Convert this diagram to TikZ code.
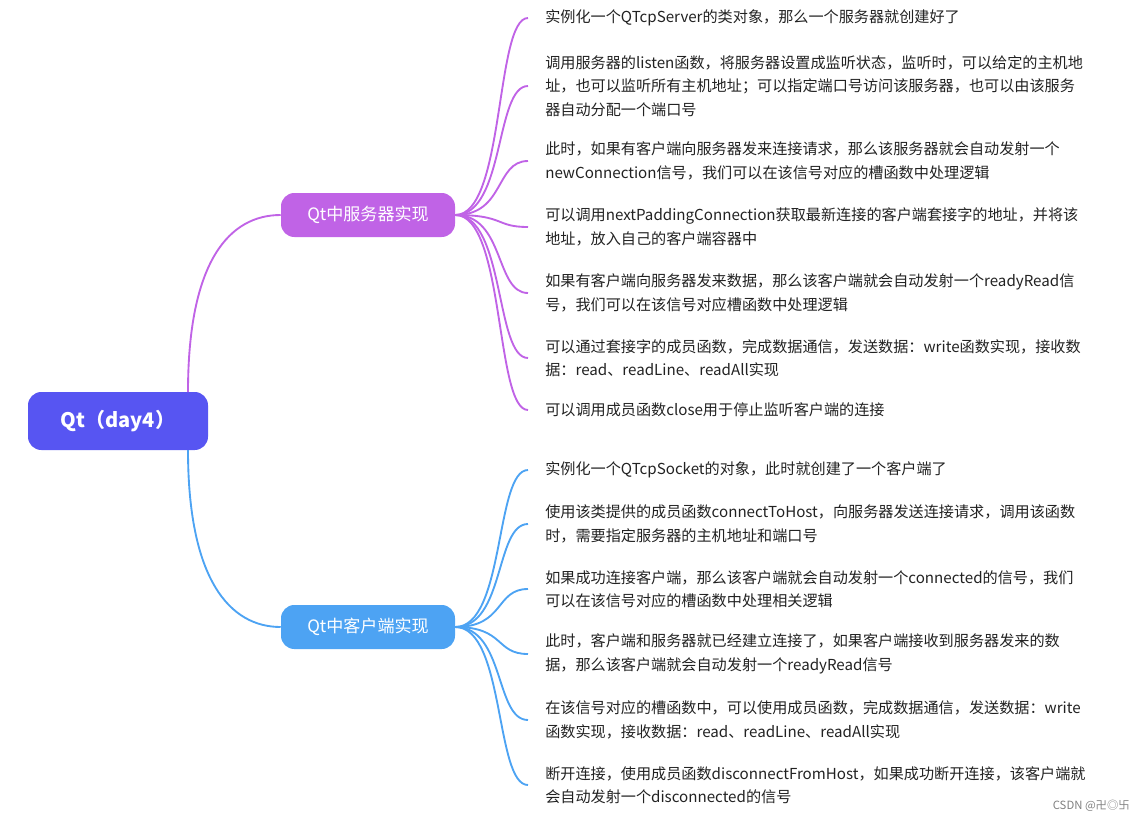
\documentclass[tikz,border=0pt]{standalone}
\usepackage{fontspec}
\setmainfont{Noto Sans CJK SC}
\definecolor{rootc}{HTML}{5755F2}
\definecolor{srvc}{HTML}{C063E6}
\definecolor{clic}{HTML}{4DA3F3}
\definecolor{txt}{HTML}{222222}
\begin{document}
\begin{tikzpicture}[x=0.75pt,y=-0.75pt,
  topic/.style={rounded corners=10pt,text=white,font=\fontsize{12.8}{15}\selectfont,inner sep=0pt,anchor=center},
  leaf/.style={anchor=west,align=left,text=txt,font=\fontsize{11.35}{17.6}\selectfont,inner sep=0pt,text width=440pt},
  sline/.style={srvc,line width=1.4pt},
  cline/.style={clic,line width=1.4pt}]
\useasboundingbox (0,0) rectangle (1143,822);
\node[topic,fill=rootc,minimum width=135pt,minimum height=43.5pt,font=\fontsize{15}{18}\selectfont\bfseries] (root) at (118,421) {Qt（day4）};
\node[topic,fill=srvc,minimum width=130.5pt,minimum height=33pt] (srv) at (368,215) {Qt中服务器实现};
\node[topic,fill=clic,minimum width=130.5pt,minimum height=33pt] (cli) at (368,627) {Qt中客户端实现};
\coordinate (rt) at (188,392); \coordinate (rb) at (188,450);
\draw[sline] (rt) .. controls (188,260) and (230,215) .. (srv.west);
\draw[cline] (rb) .. controls (188,580) and (230,627) .. (cli.west);
\foreach \n/\y/\t in {
 s1/18/{实例化一个QTcpServer的类对象，那么一个服务器就创建好了},
 s2/86/{调用服务器的listen函数，将服务器设置成监听状态，监听时，可以给定的主机地\\址，也可以监听所有主机地址；可以指定端口号访问该服务器，也可以由该服务\\器自动分配一个端口号},
 s3/161/{此时，如果有客户端向服务器发来连接请求，那么该服务器就会自动发射一个\\newConnection信号，我们可以在该信号对应的槽函数中处理逻辑},
 s4/227/{可以调用nextPaddingConnection获取最新连接的客户端套接字的地址，并将该\\地址，放入自己的客户端容器中},
 s5/293/{如果有客户端向服务器发来数据，那么该客户端就会自动发射一个readyRead信\\号，我们可以在该信号对应槽函数中处理逻辑},
 s6/358/{可以通过套接字的成员函数，完成数据通信，发送数据：write函数实现，接收数\\据：read、readLine、readAll实现},
 s7/410/{可以调用成员函数close用于停止监听客户端的连接}} {
  \node[leaf] (\n) at (545,\y) {\t};
  \draw[sline] (srv.east) .. controls (505,215) and (495,\y) .. (528,\y);
}
\foreach \n/\y/\t in {
 c1/470/{实例化一个QTcpSocket的对象，此时就创建了一个客户端了},
 c2/524/{使用该类提供的成员函数connectToHost，向服务器发送连接请求，调用该函数\\时，需要指定服务器的主机地址和端口号},
 c3/589/{如果成功连接客户端，那么该客户端就会自动发射一个connected的信号，我们\\可以在该信号对应的槽函数中处理相关逻辑},
 c4/654/{此时，客户端和服务器就已经建立连接了，如果客户端接收到服务器发来的数\\据，那么该客户端就会自动发射一个readyRead信号},
 c5/720/{在该信号对应的槽函数中，可以使用成员函数，完成数据通信，发送数据：write\\函数实现，接收数据：read、readLine、readAll实现},
 c6/785/{断开连接，使用成员函数disconnectFromHost，如果成功断开连接，该客户端就\\会自动发射一个disconnected的信号}} {
  \node[leaf] (\n) at (545,\y) {\t};
  \draw[cline] (cli.east) .. controls (505,627) and (495,\y) .. (528,\y);
}
\node[anchor=east,text=gray,font=\fontsize{8.5}{10}\selectfont,inner sep=0pt] (wm) at (1130,806) {CSDN @卍◎卐};
\end{tikzpicture}
\end{document}
